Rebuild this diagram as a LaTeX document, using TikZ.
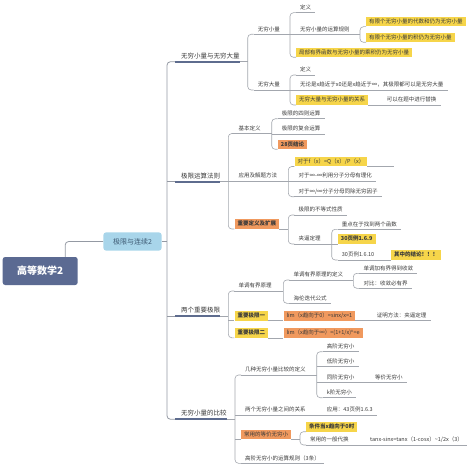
\documentclass[tikz,border=0pt]{standalone}
\usepackage{fontspec}
\setmainfont{Noto Sans CJK SC}
\newcommand\fsS{\fontsize{5.5pt}{6.5pt}\selectfont}
\newcommand\fsM{\fontsize{6.5pt}{7.5pt}\selectfont}
\newcommand\fsL{\fontsize{7pt}{8pt}\selectfont}
\newcommand\fsR{\fontsize{10pt}{12pt}\selectfont\bfseries}
\definecolor{rootc}{HTML}{5B6A92}
\definecolor{l1c}{HTML}{A8D5EA}
\definecolor{l1t}{HTML}{3E5A73}
\definecolor{ybox}{HTML}{F6D54A}
\definecolor{obox}{HTML}{F0995E}
\definecolor{txtc}{HTML}{3A3A3A}
\definecolor{lgray}{HTML}{A3A7AE}
\definecolor{mgray}{HTML}{9499A3}
\definecolor{slate}{HTML}{5E6C8E}
\begin{document}
\begin{tikzpicture}[x=1pt,y=-1pt,
  tn/.style={anchor=south west, inner xsep=4pt, inner ysep=2pt, font=\fsS, text=txtc, text height=4.4pt, text depth=1pt},
  yb/.style={tn, fill=ybox, inner xsep=3pt},
  ob/.style={tn, fill=obox, inner xsep=3pt},
  bf/.style={font=\fsS\bfseries},
  tl2/.style={anchor=south west, inner xsep=0pt, inner ysep=2.2pt, font=\fsM, text=txtc, text height=5.2pt, text depth=1.2pt},
  thinln/.style={draw=lgray, line width=0.6pt},
  rcn/.style={rounded corners=3.5pt},
  l1ln/.style={draw=mgray, line width=0.8pt},
  u2/.style={draw=slate, line width=2.2pt}]
\useasboundingbox (0,0) rectangle (474,468);
% vertical guide coordinates
\coordinate (v1) at (167,0);
\coordinate (vA) at (247.7,0);
\coordinate (vA1) at (290,0);
\coordinate (vA2) at (360,0);
\coordinate (vB) at (228.3,0);
\coordinate (vB1) at (271.7,0);
\coordinate (vB2) at (288.3,0);
\coordinate (vB3) at (331.7,0);
\coordinate (vC) at (228.3,0);
\coordinate (vC1) at (283.3,0);
\coordinate (vC2) at (353.3,0);
\coordinate (vD) at (235,0);
\coordinate (vD1) at (316.7,0);
\coordinate (vD2) at (300,0);

% root and first level
\node[fill=rootc, rounded corners=2.5pt, minimum width=75pt, minimum height=28pt, text=white, font=\fsR, inner sep=0pt] (root) at (40.2,271) {高等数学2};
\node[fill=l1c, rounded corners=3pt, minimum width=58.4pt, minimum height=18.4pt, text=l1t, font=\fsL, inner sep=0pt] (L1) at (132.5,241.5) {极限与连续2};

% level 2
\node[tl2] (a2) at (181,61.7) {无穷小量与无穷大量};
\node[tl2] (b2) at (181,181.7) {极限运算法则};
\node[tl2] (c2) at (181,316) {两个重要极限};
\node[tl2] (d2) at (181,419.3) {无穷小量的比较};

% group a
\node[tn] (a3) at (253.7,34.3) {无穷小量};
\node[tn] (a4) at (253.7,90) {无穷大量};
\node[tn] (a31) at (296,12.7) {定义};
\node[tn] (a32) at (296,34.5) {无穷小量的运算规则};
\node[yb] (a33) at (296,57.3) {局部有界函数与无穷小量的乘积仍为无穷小量};
\node[yb] (a321) at (366,26.7) {有限个无穷小量的代数和仍为无穷小量};
\node[yb] (a322) at (366,42.3) {有限个无穷小量的积仍为无穷小量};
\node[tn] (a41) at (296,75) {定义};
\node[tn] (a42) at (296,90) {无论是x趋近于x0还是x趋近于∞，其极限都可以是无穷大量};
\node[yb] (a43) at (296,105) {无穷大量与无穷小量的关系};
\node[tn] (a431) at (382.7,105) {可以在题中进行替换};

% group b
\node[tn] (b3) at (234.3,133.5) {基本定义};
\node[tn] (b4) at (234.3,181) {应用及解题方法};
\node[ob, bf] (b5) at (234.3,229) {重要定义及扩展};
\node[tn] (b31) at (277.7,118.8) {极限的四则运算};
\node[tn] (b32) at (277.7,134) {极限的复合运算};
\node[ob, bf] (b33) at (277.7,149.3) {28页结论};
\node[yb] (b41) at (294.3,166.5) {对于f（x）=Q（x）/P（x）};
\node[tn] (b42) at (294.3,181) {对于∞-∞利用分子分母有理化};
\node[tn] (b43) at (294.3,196.7) {对于∞/∞分子分母同除无穷因子};
\node[tn] (b51) at (294.3,215) {极限的不等式性质};
\node[tn] (b52) at (294.3,244) {夹逼定理};
\node[tn] (b521) at (337.7,229.3) {重点在于找到两个函数};
\node[yb, bf] (b522) at (337.7,244) {30页例1.6.9};
\node[tn] (b523) at (337.7,260) {30页例1.6.10};
\node[yb, bf] (b5231) at (391,260) {其中的结论！！！};

% group c
\node[tn] (c3) at (234.3,291) {单调有界原理};
\node[yb, bf] (c4) at (234.3,320.7) {重要极限一};
\node[yb, bf] (c5) at (234.3,337.8) {重要极限二};
\node[tn] (c31) at (289.3,280) {单调有界原理的定义};
\node[tn] (c32) at (289.3,303.3) {海伦迭代公式};
\node[tn] (c311) at (359.3,273.3) {单调加有界得到收敛};
\node[tn] (c312) at (359.3,288.3) {对比：收敛必有界};
\node[ob] (c41) at (283.3,320.7) {lim（x趋向于0）=sinx/x=1};
\node[tn] (c411) at (372.7,320.7) {证明方法：夹逼定理};
\node[ob] (c51) at (283.3,337.8) {lim（x趋向于∞）=(1+1/x)\textsuperscript{x}=e};

% group d
\node[tn] (d3) at (241,375) {几种无穷小量比较的定义};
\node[tn] (d4) at (241,415) {两个无穷小量之间的关系};
\node[ob] (d5) at (241,439.3) {常用的等价无穷小};
\node[tn] (d6) at (241,463.3) {高阶无穷小的运算规则（3条）};
\node[tn] (d41) at (322.7,415) {应用：43页例1.6.3};
\node[tn] (d31) at (322.7,351.7) {高阶无穷小};
\node[tn] (d32) at (322.7,366.7) {低阶无穷小};
\node[tn] (d33) at (322.7,382.3) {同阶无穷小};
\node[tn] (d331) at (371,382.3) {等价无穷小};
\node[tn] (d34) at (322.7,397.7) {k阶无穷小};
\node[yb, bf] (d51) at (306,431.7) {条件当x趋向于0时};
\node[tn] (d52) at (306,445) {常用的一般代换};
\node[tn] (d521) at (366,445) {tanx-sinx=tanx（1-cosx）\textasciitilde 1/2x（3）};

% underlines of plain topics
\foreach \n in {a3,a4,a31,a32,a41,a42,a431,b3,b4,b31,b32,b42,b43,b51,b52,b521,b523,c3,c31,c32,c311,c312,c411,d3,d4,d6,d41,d31,d32,d33,d331,d34,d52,d521}
  \draw[thinln] (\n.south west) -- (\n.south east);

% root -> first level
\draw[l1ln, rcn] ([xshift=25pt]root.north) |- (L1.west);
\draw[l1ln] (L1.east) -- (L1.east -| v1);
\draw[l1ln, rcn] ([xshift=-6pt]a2.south west) -- (a2.south west -| v1) -- (d2.south west -| v1) -- ([xshift=-6pt]d2.south west);
\foreach \n in {b2,c2} \draw[l1ln] (\n.south west -| v1) -- ([xshift=-6pt]\n.south west);
\foreach \n in {a2,b2,c2,d2} \draw[u2] ([xshift=-6pt]\n.south west) -- (\n.south east);

% group a connectors
\draw[thinln] (a2.south east) -- (a2.south east -| vA);
\draw[thinln, rcn] (a3.south west) -- (a3.south west -| vA) -- (a4.south west -| vA) -- (a4.south west);
\draw[thinln] (a3.south east) -- (a3.south east -| vA1);
\draw[thinln, rcn] (a31.south west) -- (a31.south west -| vA1) -- (a33.south west -| vA1) -- (a33.south west);
\draw[thinln] (a32.south west -| vA1) -- (a32.south west);
\draw[thinln] (a32.south east) -- (a32.south east -| vA2);
\draw[thinln, rcn] (a321.south west) -- (a321.south west -| vA2) -- (a322.south west -| vA2) -- (a322.south west);
\draw[thinln] (a4.south east) -- (a4.south east -| vA1);
\draw[thinln, rcn] (a41.south west) -- (a41.south west -| vA1) -- (a43.south west -| vA1) -- (a43.south west);
\draw[thinln] (a42.south west -| vA1) -- (a42.south west);
\draw[thinln] (a43.south east) -- (a431.south west);

% group b connectors
\draw[thinln] (b2.south east) -- (b2.south east -| vB);
\draw[thinln, rcn] (b3.south west) -- (b3.south west -| vB) -- (b5.south west -| vB) -- (b5.south west);
\draw[thinln] (b4.south west -| vB) -- (b4.south west);
\draw[thinln] (b3.south east) -- (b3.south east -| vB1);
\draw[thinln, rcn] (b31.south west) -- (b31.south west -| vB1) -- (b33.south west -| vB1) -- (b33.south west);
\draw[thinln] (b32.south west -| vB1) -- (b32.south west);
\draw[thinln] (b4.south east) -- (b4.south east -| vB2);
\draw[thinln, rcn] (b41.south west) -- (b41.south west -| vB2) -- (b43.south west -| vB2) -- (b43.south west);
\draw[thinln] (b42.south west -| vB2) -- (b42.south west);
\draw[thinln] (b41.south east) -- ++(26.6,0);
\draw[thinln] (b5.south east) -- (b5.south east -| vB2);
\draw[thinln, rcn] (b51.south west) -- (b51.south west -| vB2) -- (b52.south west -| vB2) -- (b52.south west);
\draw[thinln] (b52.south east) -- (b52.south east -| vB3);
\draw[thinln, rcn] (b521.south west) -- (b521.south west -| vB3) -- (b523.south west -| vB3) -- (b523.south west);
\draw[thinln] (b522.south west -| vB3) -- (b522.south west);
\draw[thinln] (b523.south east) -- (b5231.south west);

% group c connectors
\draw[thinln] (c2.south east) -- (c2.south east -| vC);
\draw[thinln, rcn] (c3.south west) -- (c3.south west -| vC) -- (c5.south west -| vC) -- (c5.south west);
\draw[thinln] (c4.south west -| vC) -- (c4.south west);
\draw[thinln] (c3.south east) -- (c3.south east -| vC1);
\draw[thinln, rcn] (c31.south west) -- (c31.south west -| vC1) -- (c32.south west -| vC1) -- (c32.south west);
\draw[thinln] (c31.south east) -- (c31.south east -| vC2);
\draw[thinln, rcn] (c311.south west) -- (c311.south west -| vC2) -- (c312.south west -| vC2) -- (c312.south west);
\draw[thinln] (c4.south east) -- (c41.south west);
\draw[thinln] (c41.south east) -- (c411.south west);
\draw[thinln] (c5.south east) -- (c51.south west);

% group d connectors
\draw[thinln] (d2.south east) -- (d2.south east -| vD);
\draw[thinln, rcn] (d3.south west) -- (d3.south west -| vD) -- (d6.south west -| vD) -- (d6.south west);
\foreach \n in {d4,d5} \draw[thinln] (\n.south west -| vD) -- (\n.south west);
\draw[thinln] (d3.south east) -- (d3.south east -| vD1);
\draw[thinln, rcn] (d31.south west) -- (d31.south west -| vD1) -- (d34.south west -| vD1) -- (d34.south west);
\foreach \n in {d32,d33} \draw[thinln] (\n.south west -| vD1) -- (\n.south west);
\draw[thinln] (d33.south east) -- (d331.south west);
\draw[thinln] (d4.south east) -- (d41.south west);
\draw[thinln] (d5.south east) -- (d5.south east -| vD2);
\draw[thinln, rcn] (d51.south west) -- (d51.south west -| vD2) -- (d52.south west -| vD2) -- (d52.south west);
\draw[thinln] (d52.south east) -- (d521.south west);
\end{tikzpicture}
\end{document}
